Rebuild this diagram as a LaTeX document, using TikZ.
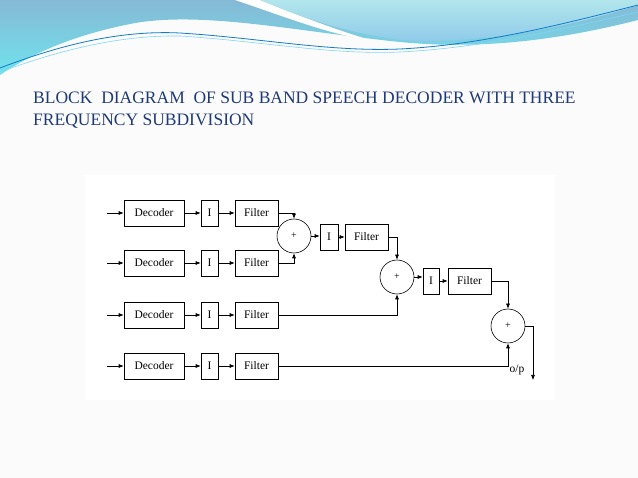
\documentclass[tikz,border=0pt]{standalone}
\usepackage{fontspec}
\setmainfont{Liberation Serif}
\usetikzlibrary{arrows.meta}
\definecolor{ttl}{HTML}{1F3A78}
\definecolor{wa}{HTML}{86B9D6}
\definecolor{wb}{HTML}{6FE3EC}
\definecolor{wc}{HTML}{B2E6EC}
\definecolor{wd}{HTML}{8CC8EA}
\begin{document}
\begin{tikzpicture}[x=1pt,y=-1pt,
  blk/.style={draw,line width=0.6pt,minimum height=26pt,inner sep=0pt,font=\fontsize{11.5}{13}\selectfont},
  sum/.style={draw,circle,line width=0.6pt,minimum size=34pt,inner sep=0pt,font=\fontsize{10}{11}\selectfont},
  ar/.style={-{Latex[length=5pt,width=4pt]},line width=0.6pt}]
\useasboundingbox (0,0) rectangle (638,478);
\fill[gray!3] (0,0) rectangle (638,478);
% waves
\shade[top color=wa,bottom color=wb] (0,0) -- (638,0) -- (638,20) .. controls (560,40) and (480,50) .. (400,42) .. controls (300,32) and (200,10) .. (130,24) .. controls (70,36) and (30,55) .. (0,75) -- cycle;
\fill[white] (235,0) .. controls (280,15) and (330,35) .. (370,40) .. controls (330,28) and (290,12) .. (260,0) -- cycle;
\shade[top color=wc,bottom color=wd] (260,0) -- (638,0) -- (638,5) .. controls (560,30) and (470,45) .. (400,40) .. controls (330,30) and (290,12) .. (260,0) -- cycle;
\draw[cyan!60!blue,line width=0.8pt] (0,68) .. controls (60,45) and (120,30) .. (180,33) .. controls (260,38) and (330,52) .. (400,49) .. controls (480,45) and (560,25) .. (638,5);
\draw[cyan!50,line width=0.6pt] (0,72) .. controls (60,50) and (120,35) .. (180,36) .. controls (260,41) and (330,55) .. (400,52) .. controls (480,48) and (560,30) .. (638,12);
% title
\node[anchor=base west,inner sep=0pt,text=ttl,font=\fontsize{17.5}{20}\selectfont] (t1) at (33,104) {BLOCK\ \ DIAGRAM\ \ OF SUB BAND SPEECH DECODER WITH THREE};
\node[anchor=base west,inner sep=0pt,text=ttl,font=\fontsize{17.5}{20}\selectfont] (t2) at (33,126) {FREQUENCY SUBDIVISION};
% panel
\fill[white] (85,175) rectangle (555,400);
% rows
\foreach \i/\y in {1/213,2/263,3/315,4/366}{
  \coordinate (in\i) at (107,\y);
  \node[blk,minimum width=60pt] (d\i) at (154,\y) {Decoder};
  \node[blk,minimum width=17pt] (i\i) at (209.5,\y) {I};
  \node[blk,minimum width=43pt] (f\i) at (256.5,\y) {Filter};
  \draw[ar] (in\i) -- (d\i);
  \draw[ar] (d\i) -- (i\i);
  \draw[ar] (i\i) -- (f\i);
}
\node[sum] (s1) at (294,236) {+};
\node[blk,minimum width=18pt] (i5) at (329,237) {I};
\node[blk,minimum width=43pt] (f5) at (366.5,237) {Filter};
\node[sum] (s2) at (397,277) {+};
\node[blk,minimum width=16pt] (i6) at (431,281) {I};
\node[blk,minimum width=43pt] (f6) at (469.5,281) {Filter};
\node[sum] (s3) at (508,326) {+};
\coordinate (out) at (533,380);
\node[inner sep=0pt,font=\fontsize{11.5}{13}\selectfont] (op) at (517,370) {o/p};
\draw[ar] (f1.east) -| (s1.north);
\draw[ar] (f2.east) -| (s1.south);
\draw[ar] (s1) -- (s1.east -| i5.west);
\draw[ar] (i5) -- (f5);
\draw[ar] (f5.east) -| (s2.north);
\draw[ar] (f3.east) -| (s2.south);
\draw[ar] (s2.east) -- (s2.east -| i6.west);
\draw[ar] (i6) -- (f6);
\draw[ar] (f6.east) -| (s3.north);
\draw[ar] (f4.east) -| (s3.south);
\draw[ar] (s3.east) -| (out);
\end{tikzpicture}
\end{document}
